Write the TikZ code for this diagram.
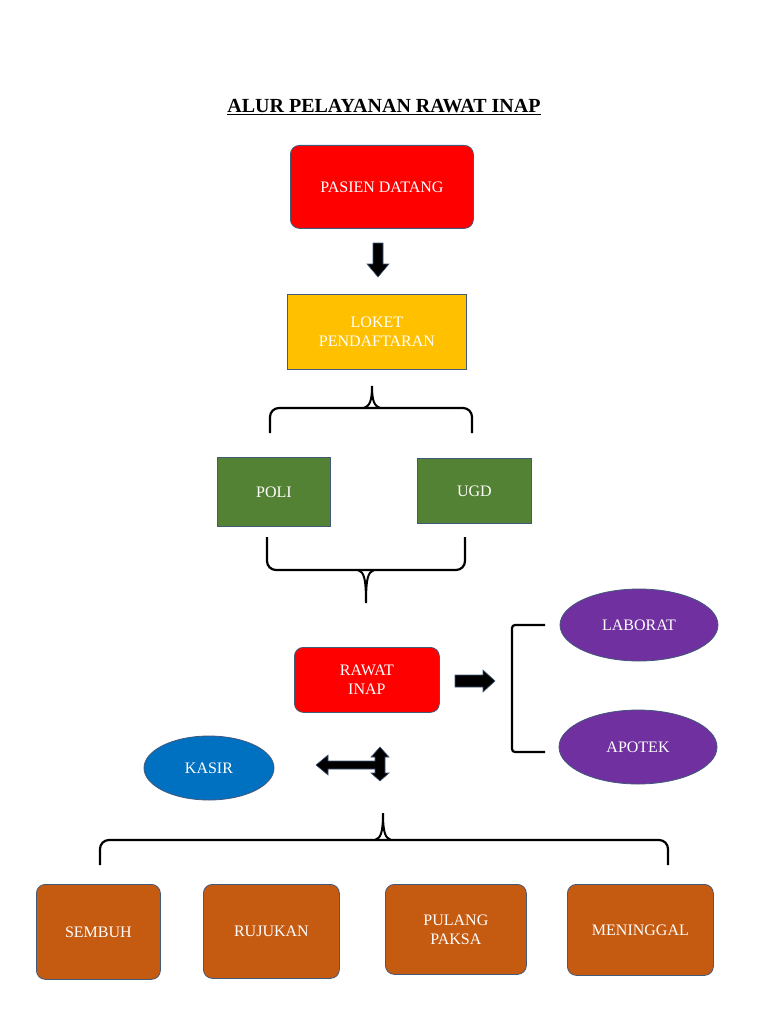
\documentclass[tikz,border=0pt]{standalone}
\usepackage{fontspec}
\setmainfont{Liberation Serif}
\usetikzlibrary{shapes.geometric,shapes.arrows}
\definecolor{rd}{HTML}{FF0000}
\definecolor{yl}{HTML}{FFC000}
\definecolor{gr}{HTML}{548235}
\definecolor{pu}{HTML}{7030A0}
\definecolor{bl}{HTML}{0070C0}
\definecolor{og}{HTML}{C55A11}
\definecolor{bd}{HTML}{41597A}
\begin{document}
\begin{tikzpicture}[x=1pt,y=-1pt,
  lbl/.style={text=white,font=\fontsize{16}{19}\selectfont,align=center},
  box/.style={lbl,draw=bd,line width=0.8pt,anchor=north west,inner sep=0pt},
  rbox/.style={box,rounded corners=9pt},
  ell/.style={lbl,ellipse,draw=bd,line width=0.8pt,inner sep=0pt},
  br/.style={line width=2.2pt,rounded corners=9pt},
  barrow/.style={fill=black,draw=bd,line width=0.6pt}]
\useasboundingbox (0,0) rectangle (768,1024);
\node[font=\bfseries\fontsize{20}{24}\selectfont] (title) at (384,107) {\underline{ALUR PELAYANAN RAWAT INAP}};
\node[rbox,fill=rd,minimum width=183pt,minimum height=83pt] (pasien) at (290,145) {PASIEN DATANG};
\node[box,fill=yl,minimum width=179pt,minimum height=75pt] (loket) at (287,294) {LOKET\\PENDAFTARAN};
\node[box,fill=gr,minimum width=113pt,minimum height=69pt] (poli) at (217,457) {POLI};
\node[box,fill=gr,minimum width=114pt,minimum height=65pt] (ugd) at (417,458) {UGD};
\node[rbox,fill=rd,minimum width=145pt,minimum height=65pt] (rawat) at (294,647) {RAWAT\\INAP};
\node[ell,fill=pu,minimum width=158pt,minimum height=72pt] (lab) at (639,625) {LABORAT};
\node[ell,fill=pu,minimum width=158pt,minimum height=74pt] (apo) at (638,747) {APOTEK};
\node[ell,fill=bl,minimum width=130pt,minimum height=64pt] (kasir) at (209,768) {KASIR};
\node[rbox,fill=og,minimum width=124pt,minimum height=95pt] (sembuh) at (36,884) {SEMBUH};
\node[rbox,fill=og,minimum width=136pt,minimum height=94pt] (rujukan) at (203,884) {RUJUKAN};
\node[rbox,fill=og,minimum width=141pt,minimum height=90pt] (pulang) at (385,884) {PULANG\\PAKSA};
\node[rbox,fill=og,minimum width=146pt,minimum height=91pt] (men) at (567,884) {MENINGGAL};
% down arrow
\draw[barrow] (373,243) -- (383,243) -- (383,264) -- (389,264) -- (378,277) -- (367,264) -- (373,264) -- cycle;
% right arrow
\draw[barrow] (455,675) -- (483,675) -- (483,670) -- (495,681) -- (483,692) -- (483,687) -- (455,687) -- cycle;
% double arrow
\draw[barrow] (316,765) -- (328,755) -- (328,761) -- (375,761) -- (375,757) -- (371,757) -- (380,747) -- (389,757) -- (385,757) -- (385,773) -- (389,773) -- (380,781) -- (371,773) -- (375,773) -- (375,769) -- (328,769) -- (328,775) -- cycle;
% brace 1
\draw[br] (270,433) -- (270,408) -- (372,408);
\draw[br] (472,433) -- (472,408) -- (372,408);
\draw[line width=2pt] (364,408) .. controls (370,406) and (372,400) .. (372,386) .. controls (372,400) and (374,406) .. (380,408);
% brace 2
\draw[br] (267,537) -- (267,570) -- (366,570);
\draw[br] (465,537) -- (465,570) -- (366,570);
\draw[line width=2pt] (358,570) .. controls (364,572) and (366,578) .. (366,603) .. controls (366,578) and (368,572) .. (374,570);
% bracket
\draw[line width=2.2pt,rounded corners=3pt] (545,625) -- (512,625) -- (512,752) -- (545,752);
% brace 3
\draw[br] (100,865) -- (100,840) -- (383,840);
\draw[br] (668,865) -- (668,840) -- (383,840);
\draw[line width=2pt] (375,840) .. controls (381,838) and (383,832) .. (383,813) .. controls (383,832) and (385,838) .. (391,840);
\end{tikzpicture}
\end{document}
